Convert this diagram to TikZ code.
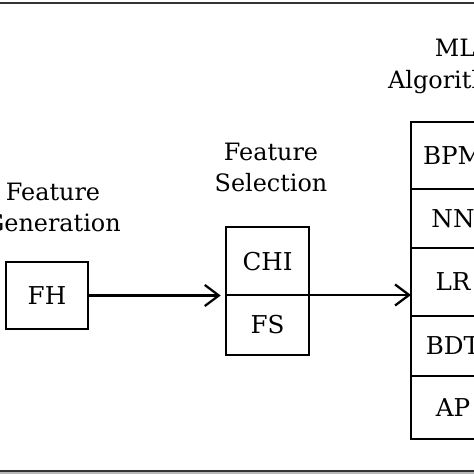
\documentclass[tikz,border=0pt]{standalone}
\usepackage{fontspec}
\setmainfont{DejaVu Serif}
\usepackage{tikz}
\usetikzlibrary{arrows.meta, positioning}
\tikzset{
  cell/.style={draw, line width=1.1pt, outer sep=0pt, align=center, minimum width=1.66cm, inner sep=0pt, font=\fontsize{14}{17}\selectfont},
  heading/.style={align=center, inner sep=0pt, font=\fontsize{13.6}{18}\selectfont},
  arrow/.style={-{Straight Barb[length=8pt, width=12pt, line width=1.3pt]}, line width=1.3pt},
  rule/.style={line width=1.2pt, black!80}
}

\begin{document}
\begin{tikzpicture}[x=0.02cm, y=-0.02cm]
    \clip (0,0) rectangle (474,474);
    \useasboundingbox (0,0) rectangle (474,474);
    % frame lines of the cropped figure
    \fill[black!28] (0,471) rectangle (474,474);
    \draw[rule] (0,3) -- (474,3);
    \draw[rule] (0,470.7) -- (474,470.7);

    % feature generation
    \node[cell, minimum width=1.64cm, minimum height=1.346cm] (fh) at (47,295.5) {FH};
    \node[heading, anchor=base] (gen) at (53,231.7) {Feature\\Generation};

    % feature selection
    \node[cell, anchor=north, minimum height=1.354cm] (chi) at (267.5,227.3) {CHI};
    \node[cell, below=0pt of chi, minimum height=1.2cm] (fs) {FS};
    \node[heading, anchor=base] (sel) at (271,191.7) {Feature\\Selection};

    % ML algorithms
    \node[cell, anchor=north, minimum width=1.68cm, minimum height=1.352cm] (bpm) at (453,121.7) {BPM};
    \node[cell, below=0pt of bpm, minimum width=1.68cm, minimum height=1.168cm] (nn) {NN};
    \node[cell, below=0pt of nn, minimum width=1.68cm, minimum height=1.366cm] (lr) {LR};
    \node[cell, below=0pt of lr, minimum width=1.68cm, minimum height=1.2cm] (bdt) {BDT};
    \node[cell, below=0pt of bdt, minimum width=1.68cm, minimum height=1.266cm] (ap) {AP};
    \node[heading, anchor=base] (ml) at (455,88.3) {ML\\Algorithms};

    \draw[arrow, shorten >=3pt] (fh.east) -- (fh.east -| chi.west);
    \draw[arrow] (chi.south east) -- (chi.south east -| lr.west);
\end{tikzpicture}
\end{document}
